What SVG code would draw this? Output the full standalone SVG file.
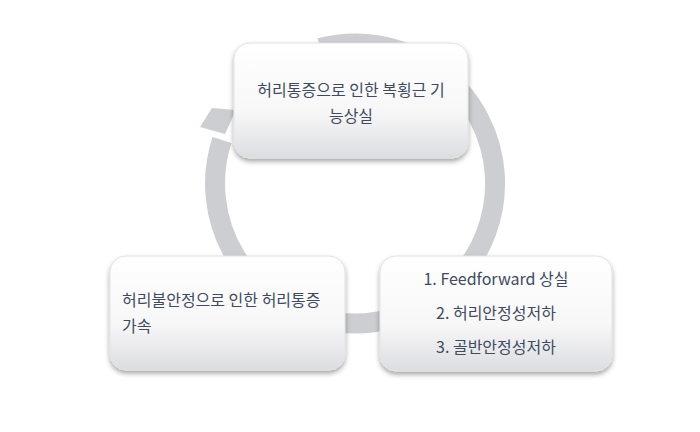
<svg xmlns="http://www.w3.org/2000/svg" width="700" height="432" viewBox="0 0 700 432">
<defs>
<linearGradient id="g" x1="0" y1="0" x2="0" y2="1"><stop offset="0" stop-color="#ffffff"/><stop offset="0.6" stop-color="#f7f7f8"/><stop offset="1" stop-color="#dcdde0"/></linearGradient>
<filter id="s" x="-10%" y="-10%" width="120%" height="130%"><feDropShadow dx="0" dy="3" stdDeviation="2.5" flood-color="#000" flood-opacity="0.35"/></filter>
<style>.b{fill:url(#g);stroke:#e2e2e4;stroke-width:1;filter:url(#s)}.t{font-family:"Noto Sans CJK KR","Noto Sans",sans-serif;font-size:16px;fill:#3f4a5e;text-anchor:middle}</style>
</defs>
<rect width="700" height="432" fill="#fff"/>
<g id="connectors">
<path d="M 222 140 A 140 140 0 1 0 320 48" fill="none" stroke="#cdced2" stroke-width="20"/>
<polygon points="200,127 212,108 236,110 225,134" fill="#cdced2"/>
</g>
<g id="n1"><rect class="b" x="234" y="43" width="234" height="115" rx="16"/>
<text class="t" x="351" y="96">허리통증으로 인한 복횡근 기</text><text class="t" x="351" y="122">능상실</text></g>
<g id="n2"><rect class="b" x="380" y="256" width="232" height="115" rx="16"/>
<text class="t" x="496" y="285">1. Feedforward 상실</text><text class="t" x="496" y="319">2. 허리안정성저하</text><text class="t" x="496" y="353">3. 골반안정성저하</text></g>
<g id="n3"><rect class="b" x="110" y="256" width="235" height="114" rx="16"/>
<text class="t" x="122" y="306" style="text-anchor:start">허리불안정으로 인한 허리통증</text><text class="t" x="122" y="332" style="text-anchor:start">가속</text></g>
</svg>
